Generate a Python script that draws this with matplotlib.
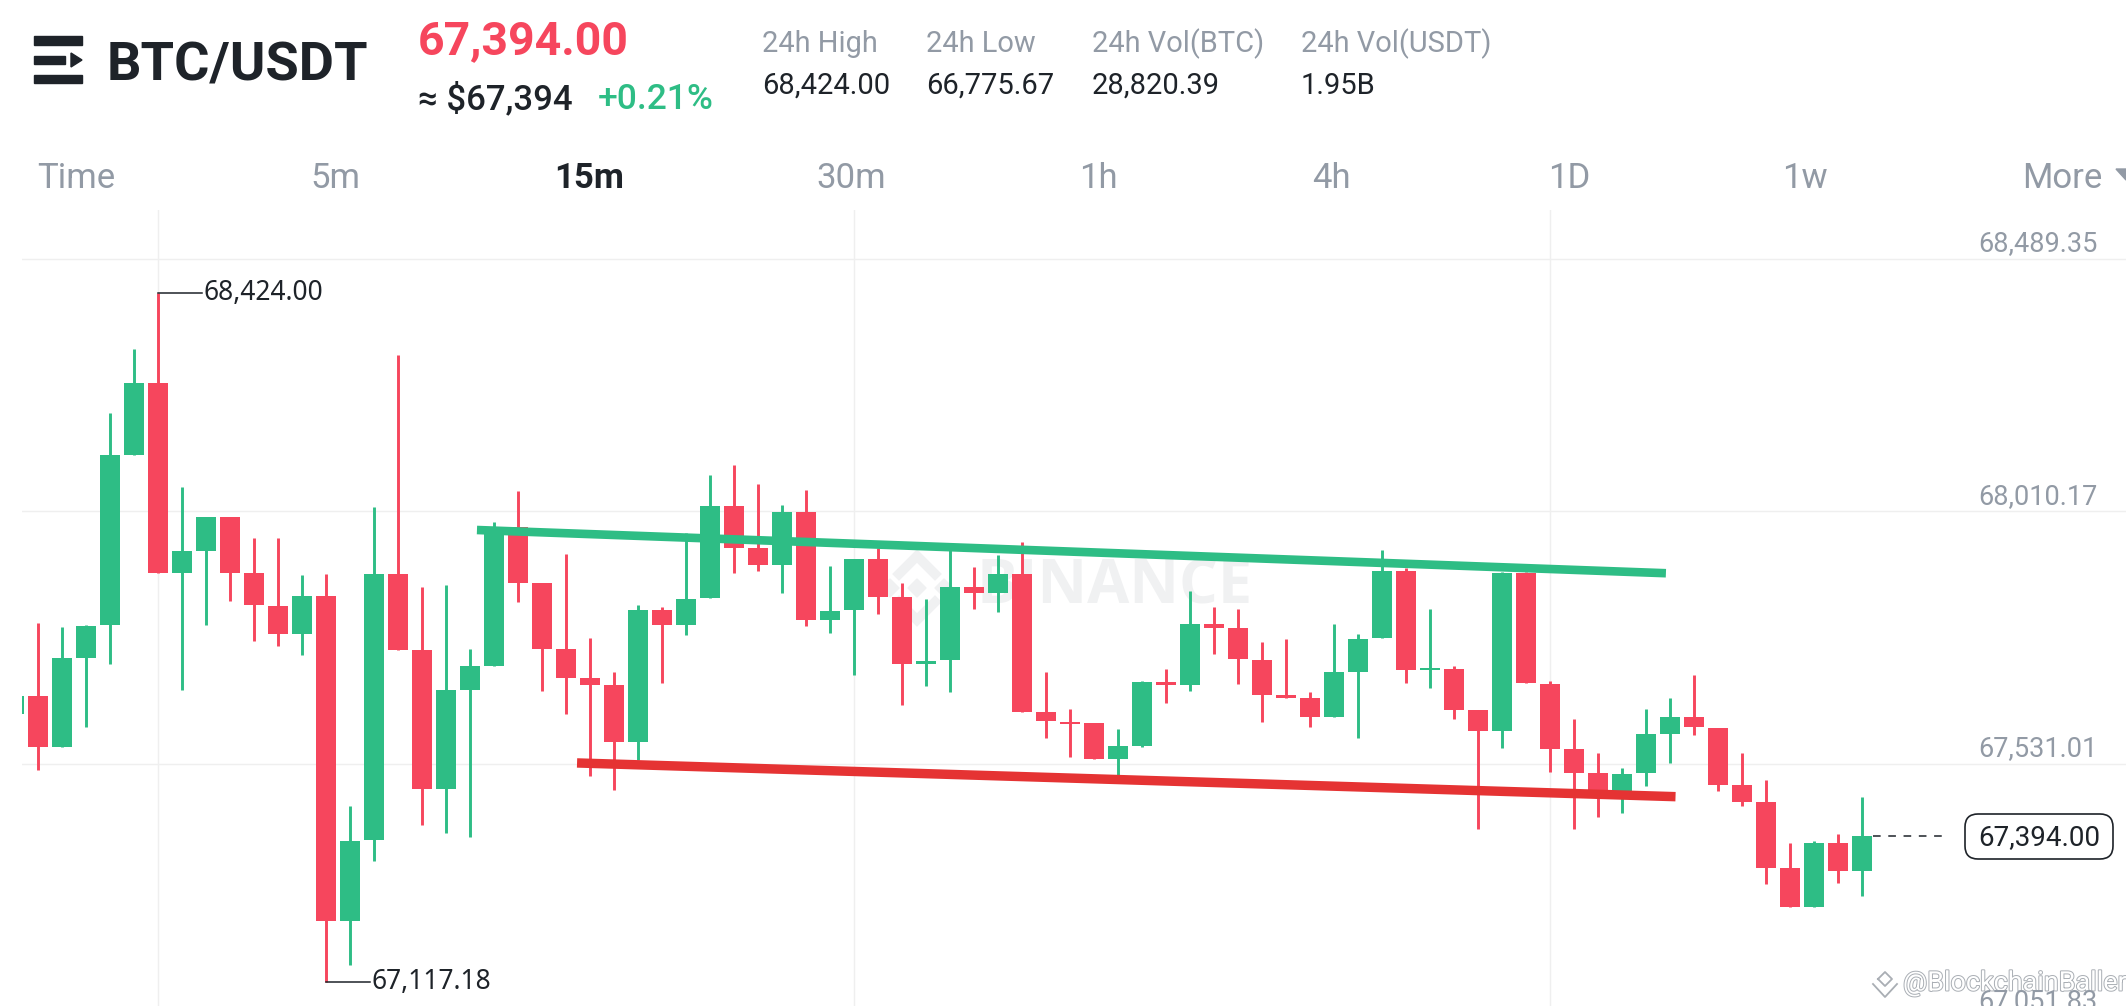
import numpy as np
import matplotlib
matplotlib.use("Agg")
import matplotlib.pyplot as plt
from matplotlib.patches import Rectangle, Polygon, FancyBboxPatch
import matplotlib.patheffects as pe

plt.rcParams['font.family'] = ['Roboto', 'DejaVu Sans']

# candles, oldest first (the first one is cut off by the left edge)
opens = [67625, 67660, 67564, 67733, 67794, 68118, 68253, 67894, 67936, 67999,
         67894, 67831, 67777, 67850, 67234, 67386, 67891, 67747, 67484, 67672,
         67717, 67981, 67875, 67749, 67694, 67680, 67573, 67823, 67795, 67846,
         68021, 67941, 67909, 68009, 67804, 67823, 67920, 67848, 67721, 67728,
         67867, 67856, 67891, 67629, 67611, 67609, 67540, 67566, 67686, 67680,
         67797, 67789, 67728, 67662, 67656, 67620, 67706, 67770, 67897, 67709,
         67711, 67633, 67594, 67894, 67683, 67559, 67513, 67476, 67513, 67587,
         67620, 67600, 67491, 67458, 67333, 67260, 67381, 67328]
highs = [67660, 67798, 67790, 67794, 68197, 68319, 68424, 68057, 67999, 67999,
         67960, 67960, 67889, 67892, 67451, 68019, 68307, 67867, 67871, 67749,
         67991, 68049, 67875, 67929, 67770, 67705, 67832, 67829, 67969, 68079,
         68099, 68062, 68023, 68050, 67907, 67920, 67940, 67874, 67845, 67939,
         67905, 67928, 67953, 67705, 67635, 67609, 67597, 67689, 67711, 67859,
         67828, 67826, 67762, 67769, 67667, 67797, 67778, 67938, 67902, 67826,
         67717, 67633, 67896, 67896, 67689, 67616, 67551, 67524, 67635, 67657,
         67699, 67600, 67551, 67501, 67382, 67384, 67399, 67469]
lows = [67625, 67520, 67564, 67602, 67720, 68118, 67894, 67671, 67794, 67841,
        67765, 67755, 67737, 67117.18, 67150, 67346, 67747, 67415, 67400, 67392,
        67717, 67839, 67670, 67626, 67509, 67482, 67539, 67685, 67776, 67846,
        67893, 67897, 67856, 67792, 67780, 67699, 67816, 67643, 67679, 67668,
        67826, 67820, 67630, 67580, 67544, 67540, 67510, 67563, 67647, 67670,
        67739, 67682, 67611, 67657, 67602, 67620, 67580, 67770, 67684, 67676,
        67616, 67407, 67561, 67684, 67516, 67407, 67430, 67438, 67490, 67532,
        67586, 67480, 67451, 67304, 67260, 67260, 67305, 67281]
closes = [67660, 67564, 67732, 67793, 68117, 68253, 67894, 67935, 67999, 67894,
          67832, 67777, 67850, 67234, 67385, 67891, 67747, 67484, 67671, 67716,
          67981, 67875, 67749, 67694, 67680, 67573, 67823, 67795, 67845, 68021,
          67941, 67909, 68009, 67804, 67821, 67920, 67848, 67721, 67727, 67867,
          67856, 67891, 67630, 67612, 67607, 67540, 67565, 67686, 67680, 67797,
          67789, 67730, 67661, 67657, 67620, 67706, 67768, 67897, 67709, 67714,
          67634, 67594, 67893, 67684, 67559, 67513, 67472, 67512, 67587, 67620,
          67601, 67491, 67458, 67334, 67260, 67381, 67328, 67394]

# trend lines drawn on the chart: candle position, price
green_line_x = [18.29, 67.83]
green_line_y = [67975, 67893]
red_line_x = [22.46, 68.23]
red_line_y = [67533, 67469]

price_ticks = [68489.35, 68010.17, 67531.01, 67051.83]
time_ticks = [5, 34, 63]
last_price = 67394.00
high_label = "68,424.00"
low_label = "67,117.18"
tabs = ["Time", "5m", "15m", "30m", "1h", "4h", "1D", "1w", "More"]
tab_x = [37, 310, 554, 816, 1079, 1312, 1548, 1782, 2022]
stats = ["24h High", "24h Low", "24h Vol(BTC)", "24h Vol(USDT)"]
stat_values = ["68,424.00", "66,775.67", "28,820.39", "1.95B"]
stat_x = [762, 926, 1092, 1301]

GREEN = "#2EBD85"
RED = "#F6465D"
GREY = "#929AA5"
DARK = "#1E2329"
W, H = 2126, 1006

fig = plt.figure(figsize=(W / 100, H / 100), dpi=100, facecolor="white")

# layer in pixel coordinates for the app header and watermarks
ui = fig.add_axes([0, 0, 1, 1], zorder=0)
ui.set_xlim(0, W)
ui.set_ylim(H, 0)
ui.axis("off")

# chart, x in candles and y in price
top_px, left_px = 210, 22
ax = fig.add_axes([left_px / W, 0, 1 - left_px / W, 1 - top_px / H], zorder=1)
ax.patch.set_visible(False)
ax.set_xlim((left_px - 38) / 24, (W - 38) / 24)
ax.set_ylim(67071.8, 68582.2)
for s in ax.spines.values():
    s.set_visible(False)
ax.set_xticks(time_ticks)
ax.set_yticks(price_ticks[:3])
ax.tick_params(length=0, labelbottom=False, labelleft=False)
ax.grid(True, color="#EFEFEF", linewidth=1.0)
ax.set_axisbelow(True)

x = np.arange(-1, len(opens) - 1)
opens_a, highs_a, lows_a, closes_a = map(np.array, (opens, highs, lows, closes))
colors = [GREEN if c >= o else RED for o, c in zip(opens, closes)]
ax.vlines(x, lows_a, highs_a, colors=colors, linewidth=2.1, zorder=2)
ax.bar(x, np.abs(closes_a - opens_a), bottom=np.minimum(opens_a, closes_a),
       width=0.86, color=colors, linewidth=0, zorder=3)

ax.plot(green_line_x, green_line_y, color=GREEN, linewidth=6.2, solid_capstyle="butt", zorder=4)
ax.plot(red_line_x, red_line_y, color="#E53333", linewidth=6.8, solid_capstyle="butt", zorder=4)

# high and low labels
ax.plot([5, 6.83], [max(highs), max(highs)], color=DARK, linewidth=1.1, zorder=5)
ax.plot([12, 13.83], [min(lows), min(lows)], color=DARK, linewidth=1.1, zorder=5)
ax.text(6.9, max(highs), high_label, family=["Noto Sans", "DejaVu Sans"], fontsize=19, color=DARK, va="center", zorder=5)
ax.text(13.9, min(lows), low_label, family=["Noto Sans", "DejaVu Sans"], fontsize=19, color=DARK, va="center", zorder=5)

# dashed last price line and its box
ax.plot([76.45, 79.6], [last_price, last_price], color=DARK, linewidth=1.1,
        dashes=(5, 5), zorder=5)
box = FancyBboxPatch((1965, 814), 148, 45, boxstyle="round,pad=0,rounding_size=13",
                     facecolor="white", edgecolor=DARK, linewidth=1.2, zorder=6)
ui.add_patch(box)
ui.text(2039, 838, f"{last_price:,.2f}", fontsize=20, color=DARK, ha="center", va="center", zorder=7)

# price axis labels sit just above their grid lines
for p in price_ticks:
    ax.annotate(f"{p:,.2f}", xy=(1, p), xycoords=ax.get_yaxis_transform(), xytext=(-28, 15),
                textcoords="offset pixels", fontsize=19.5, color=GREY, ha="right", va="center",
                annotation_clip=False)

# menu icon
ui.add_patch(Rectangle((34, 36), 48, 9, color=DARK))
ui.add_patch(Rectangle((34, 56), 31, 8, color=DARK))
ui.add_patch(Polygon([(71, 53), (82, 60), (71, 67)], color=DARK))
ui.add_patch(Rectangle((34, 75), 48, 8, color=DARK))

# header
ui.text(107, 66, "BTC/USDT", fontsize=39, fontweight="bold", color=DARK, va="center")
ui.text(418, 41, "67,394.00", fontsize=33.4, fontweight="bold", color=RED, va="center")
ui.text(418, 99, "≈ $67,394", fontsize=25, fontweight="medium", color=DARK, va="center")
ui.text(598, 99, "+0.21%", fontsize=25.5, fontweight="medium", color=GREEN, va="center")
for label, val, sx in zip(stats, stat_values, stat_x):
    ui.text(sx, 44, label, fontsize=20.9, color=GREY, va="center")
    ui.text(sx, 86, val, fontsize=21, color=DARK, va="center")

# interval tabs
for label, tx in zip(tabs, tab_x):
    selected = label == "15m"
    ui.text(tx, 178, label, fontsize=25, color=DARK if selected else GREY,
            fontweight="bold" if selected else "normal", va="center")
ui.add_patch(Polygon([(2116, 169), (2136, 169), (2126, 180)], color=GREY))

# BINANCE watermark behind the candles
WM = "#F0F1F2"
ui.text(976, 588, "BINANCE", family=["Open Sans", "DejaVu Sans"], fontsize=44, fontweight="bold", color=WM, va="center")
for dx, dy, r in [(0, 0, 9), (-27, 0, 9), (27, 0, 9)]:
    ui.add_patch(Polygon([(917 + dx, 588 + dy - r), (917 + dx + r, 588 + dy),
                          (917 + dx, 588 + dy + r), (917 + dx - r, 588 + dy)], color=WM))
ui.plot([899, 917, 935], [574, 556, 574], color=WM, linewidth=7, solid_joinstyle="miter")
ui.plot([899, 917, 935], [602, 620, 602], color=WM, linewidth=7, solid_joinstyle="miter")

# corner watermark
stroke = [pe.withStroke(linewidth=1.4, foreground="#A9AEB4")]
ui.text(1903, 983, "@BlockchainBaller", fontsize=19.4, color="white", va="center",
        path_effects=stroke, zorder=8)
ui.plot([1873, 1885, 1897], [984, 997, 984], color="#A9AEB4", linewidth=1.3, zorder=8)
ui.plot([1878, 1885, 1892, 1885, 1878], [979, 972, 979, 986, 979], color="#A9AEB4", linewidth=1.3, zorder=8)

fig.savefig("out.png", dpi=100, facecolor="white")
